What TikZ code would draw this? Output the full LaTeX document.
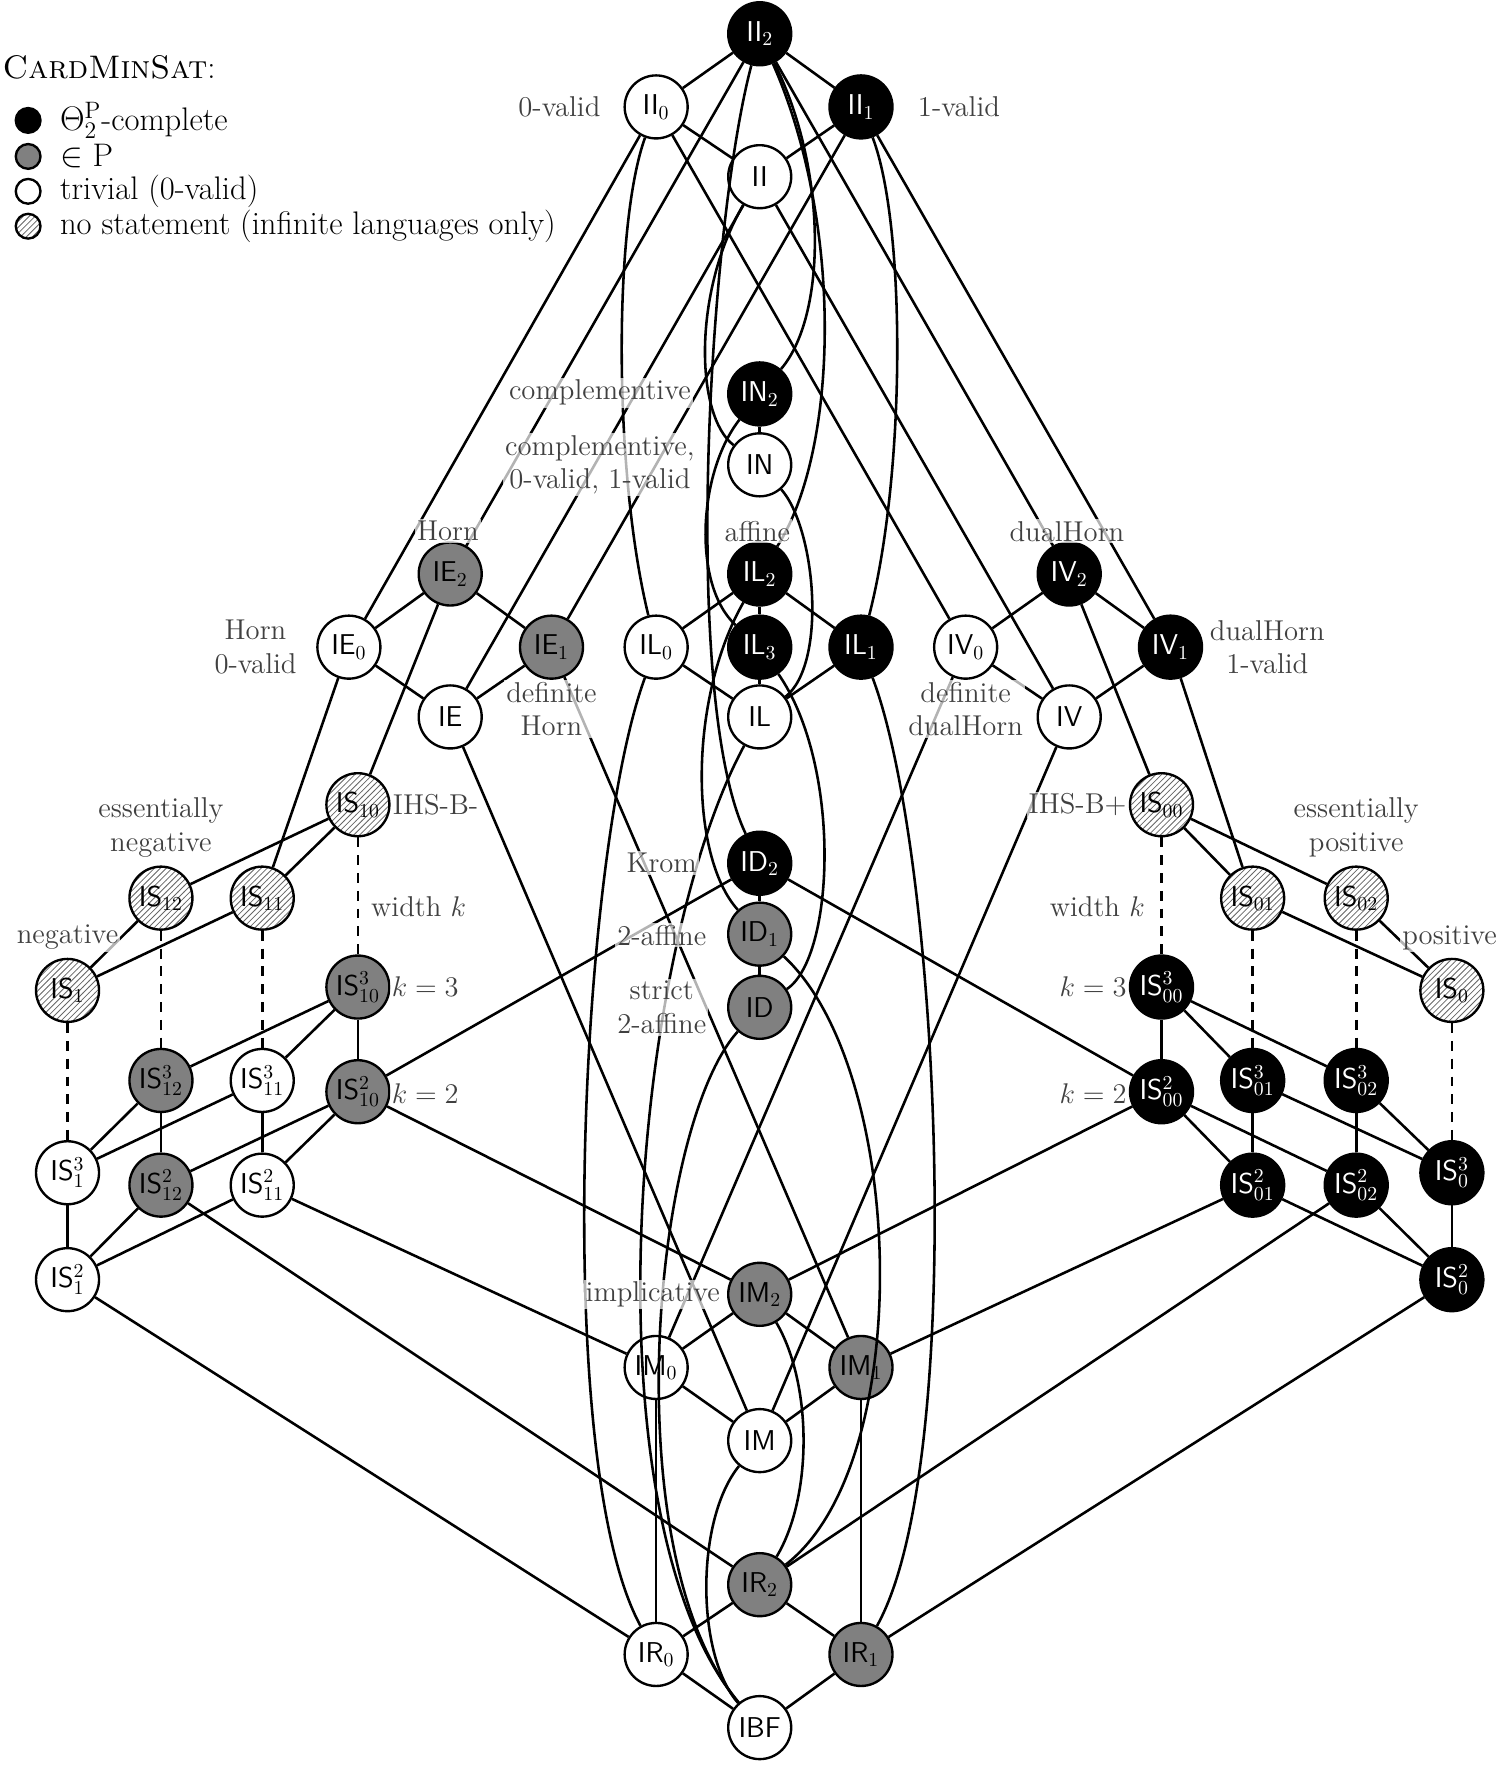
\documentclass[tikz,border=0pt]{standalone}
\usetikzlibrary{patterns}
\begin{document}
\begin{tikzpicture}[x=0.02cm,y=-0.02cm,
  nd/.style={circle,draw,line width=1.2pt,minimum size=1.12cm,inner sep=0pt,font=\sffamily\fontsize{14.5}{14.5}\selectfont},
  blk/.style={nd,fill=black,text=white},
  gry/.style={nd,fill=black!50},
  wht/.style={nd,fill=white},
  hat/.style={nd,pattern=north east lines,pattern color=black!60},
  edge/.style={line width=1.3pt},
  dsh/.style={line width=1.3pt,dash pattern=on 5pt off 4pt},
  lbl/.style={fill=white,fill opacity=0.7,text opacity=1,text=black!75,inner sep=1pt,align=center,font=\fontsize{14.5}{17}\selectfont},
  leg/.style={anchor=west,font=\fontsize{16.5}{18}\selectfont,inner sep=0pt},
  legc/.style={circle,draw,line width=1.2pt,minimum size=0.44cm,inner sep=0pt}]
\useasboundingbox (0,0) rectangle (1340,1578);
% nodes
\node[blk] (II2) at (675,30) {II$_2$};
\node[wht] (II0) at (583,95) {II$_0$};
\node[blk] (II1) at (765,95) {II$_1$};
\node[wht] (II) at (675,157) {II};
\node[blk] (IN2) at (675,350) {IN$_2$};
\node[wht] (IN) at (675,413) {IN};
\node[blk] (IL2) at (675,510) {IL$_2$};
\node[blk] (IL3) at (675,575) {IL$_3$};
\node[wht] (IL0) at (583,575) {IL$_0$};
\node[blk] (IL1) at (765,575) {IL$_1$};
\node[wht] (IL) at (675,637) {IL};
\node[gry] (IE2) at (400,510) {IE$_2$};
\node[wht] (IE0) at (310,575) {IE$_0$};
\node[gry] (IE1) at (490,575) {IE$_1$};
\node[wht] (IE) at (400,637) {IE};
\node[blk] (IV2) at (950,510) {IV$_2$};
\node[wht] (IV0) at (858,575) {IV$_0$};
\node[blk] (IV1) at (1040,575) {IV$_1$};
\node[wht] (IV) at (950,637) {IV};
\node[blk] (ID2) at (675,767) {ID$_2$};
\node[gry] (ID1) at (675,830) {ID$_1$};
\node[gry] (ID) at (675,895) {ID};
\node[hat] (s10) at (318,715) {IS$_{10}$};
\node[hat] (s12) at (143,798) {IS$_{12}$};
\node[hat] (s11) at (233,798) {IS$_{11}$};
\node[hat] (s1) at (60,880) {IS$_{1}$};
\node[gry] (s10c) at (318,877) {IS$^3_{10}$};
\node[gry] (s12c) at (143,960) {IS$^3_{12}$};
\node[wht] (s11c) at (233,960) {IS$^3_{11}$};
\node[gry] (s10b) at (318,970) {IS$^2_{10}$};
\node[wht] (s1c) at (60,1042) {IS$^3_{1}$};
\node[gry] (s12b) at (143,1053) {IS$^2_{12}$};
\node[wht] (s11b) at (233,1053) {IS$^2_{11}$};
\node[wht] (s1b) at (60,1137) {IS$^2_{1}$};
\node[hat] (s00) at (1032,715) {IS$_{00}$};
\node[hat] (s01) at (1113,798) {IS$_{01}$};
\node[hat] (s02) at (1205,798) {IS$_{02}$};
\node[hat] (s0) at (1290,880) {IS$_{0}$};
\node[blk] (s00c) at (1032,877) {IS$^3_{00}$};
\node[blk] (s00b) at (1032,970) {IS$^2_{00}$};
\node[blk] (s01c) at (1113,960) {IS$^3_{01}$};
\node[blk] (s02c) at (1205,960) {IS$^3_{02}$};
\node[blk] (s0c) at (1290,1042) {IS$^3_{0}$};
\node[blk] (s01b) at (1113,1053) {IS$^2_{01}$};
\node[blk] (s02b) at (1205,1053) {IS$^2_{02}$};
\node[blk] (s0b) at (1290,1137) {IS$^2_{0}$};
\node[gry] (IM2) at (675,1150) {IM$_2$};
\node[wht] (IM0) at (583,1215) {IM$_0$};
\node[gry] (IM1) at (765,1215) {IM$_1$};
\node[wht] (IM) at (675,1280) {IM};
\node[gry] (IR2) at (675,1408) {IR$_2$};
\node[wht] (IR0) at (583,1470) {IR$_0$};
\node[gry] (IR1) at (765,1470) {IR$_1$};
\node[wht] (IBF) at (675,1535) {IBF};
% straight edges
\foreach \a/\b in {II2/II0,II2/II1,II0/II,II1/II,IN2/IN,
  II2/IE2,II2/IV2,II0/IE0,II0/IV0,II1/IV1,II1/IE1,II/IE,II/IV,
  IE2/IE0,IE2/IE1,IE0/IE,IE1/IE,IV2/IV0,IV2/IV1,IV0/IV,IV1/IV,
  IL2/IL0,IL2/IL1,IL2/IL3,IL0/IL,IL1/IL,IL3/IL,
  IE2/s10,IE0/s11,IV2/s00,IV1/s01,
  IE/IM,IV/IM,IE1/IM1,IV0/IM0,
  ID2/ID1,ID1/ID,ID2/s10b,ID2/s00b,
  s10/s12,s10/s11,s11/s1,s12/s1,
  s10c/s12c,s10c/s11c,s12c/s1c,s11c/s1c,s10c/s10b,s12c/s12b,s11c/s11b,s1c/s1b,
  s10b/s12b,s10b/s11b,s12b/s1b,s11b/s1b,
  s00/s01,s00/s02,s01/s0,s02/s0,
  s00c/s01c,s00c/s02c,s01c/s0c,s02c/s0c,s00c/s00b,s01c/s01b,s02c/s02b,s0c/s0b,
  s00b/s01b,s00b/s02b,s01b/s0b,s02b/s0b,
  s10b/IM2,s11b/IM0,s12b/IR2,s1b/IR0,s00b/IM2,s01b/IM1,s02b/IR2,s0b/IR1,
  IM2/IM0,IM2/IM1,IM0/IM,IM1/IM,IM0/IR0,IM1/IR1,IR0/IR2,IR1/IR2,IR0/IBF,IR1/IBF}
  \draw[edge] (\a) -- (\b);
\foreach \a/\b in {s10/s10c,s12/s12c,s11/s11c,s1/s1c,s00/s00c,s01/s01c,s02/s02c,s0/s0c}
  \draw[dsh] (\a) -- (\b);
% curved edges
\draw[edge] (II2) .. controls (735,150) and (735,280) .. (IN2);
\draw[edge] (II) .. controls (615,260) and (618,370) .. (IN);
\draw[edge] (IN2) .. controls (620,420) and (615,520) .. (IL3);
\draw[edge] (IN) .. controls (725,470) and (735,590) .. (IL);
\draw[edge] (II2) .. controls (750,200) and (745,400) .. (IL2);
\draw[edge] (II2) .. controls (630,200) and (605,620) .. (ID2);
\draw[edge] (II0) .. controls (545,200) and (545,420) .. (IL0);
\draw[edge] (II1) .. controls (805,200) and (805,420) .. (IL1);
\draw[edge] (IL2) .. controls (612,620) and (612,760) .. (ID1);
\draw[edge] (IL3) .. controls (748,680) and (742,850) .. (ID);
\draw[edge] (ID1) .. controls (805,950) and (815,1300) .. (IR2);
\draw[edge] (IM2) .. controls (722,1230) and (722,1330) .. (IR2);
\draw[edge] (IM) .. controls (618,1350) and (618,1470) .. (IBF);
\draw[edge] (IL0) .. controls (515,760) and (490,1300) .. (IR0);
\draw[edge] (IL1) .. controls (835,760) and (860,1300) .. (IR1);
\draw[edge] (IL) .. controls (560,850) and (520,1350) .. (IBF);
\draw[edge] (ID) .. controls (580,1000) and (545,1380) .. (IBF);
% labels
\node[lbl] at (497,95) {0-valid};
\node[lbl] at (852,95) {1-valid};
\node[lbl] at (533,349) {complementive};
\node[lbl] at (533,413) {complementive,\\0-valid, 1-valid};
\node[lbl] at (398,472) {Horn};
\node[lbl] at (227,575) {Horn\\0-valid};
\node[lbl] at (490,630) {definite\\Horn};
\node[lbl] at (673,472) {affine};
\node[lbl] at (948,472) {dualHorn};
\node[lbl] at (1126,575) {dualHorn\\1-valid};
\node[lbl] at (858,630) {definite\\dualHorn};
\node[lbl,anchor=west] at (347,715) {IHS-B-};
\node[lbl,anchor=east] at (1003,715) {IHS-B+};
\node[lbl] at (143,735) {essentially\\negative};
\node[lbl] at (1205,735) {essentially\\positive};
\node[lbl] at (60,833) {negative};
\node[lbl] at (1288,833) {positive};
\node[lbl] at (372,806) {width $k$};
\node[lbl] at (975,806) {width $k$};
\node[lbl,anchor=west] at (346,877) {$k=3$};
\node[lbl,anchor=east] at (1003,877) {$k=3$};
\node[lbl,anchor=west] at (346,972) {$k=2$};
\node[lbl,anchor=east] at (1003,972) {$k=2$};
\node[lbl] at (588,767) {Krom};
\node[lbl] at (588,831) {2-affine};
\node[lbl] at (588,895) {strict\\2-affine};
\node[lbl] at (580,1150) {implicative};
% legend
\node[leg] (lt) at (2,60) {\textsc{CardMinSat}:};
\node[legc,fill=black] (l1) at (25,107) {};
\node[legc,fill=black!50] (l2) at (25,139) {};
\node[legc,fill=white] (l3) at (25,170) {};
\node[legc,pattern=north east lines,pattern color=black!60] (l4) at (25,201) {};
\node[leg] at (53,107) {$\Theta_2^{\mathrm{P}}$-complete};
\node[leg] at (53,139) {$\in$ P};
\node[leg] at (53,170) {trivial (0-valid)};
\node[leg] at (53,201) {no statement (infinite languages only)};
\end{tikzpicture}
\end{document}
